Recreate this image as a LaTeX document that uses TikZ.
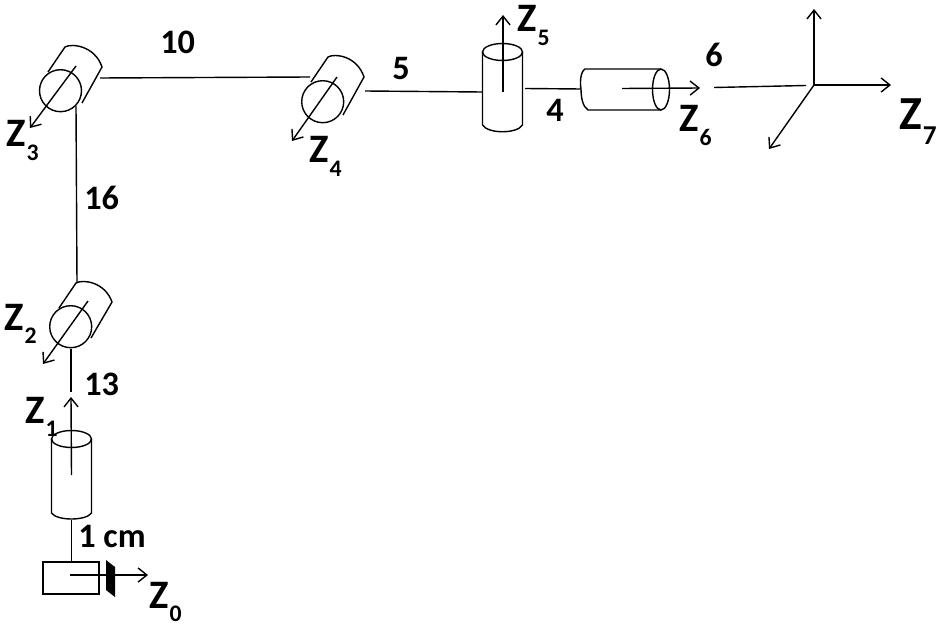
\documentclass[tikz,border=0pt]{standalone}
\usepackage{fontspec}
\setmainfont{Carlito}
\usepackage{tikz}
\usetikzlibrary{arrows.meta,shapes.geometric}
\tikzstyle{link} = [line width=0.8pt]
\tikzstyle{axis} = [line width=0.8pt, -{Straight Barb[length=5pt,width=8pt,line width=0.8pt]}]
\tikzstyle{disc} = [draw, circle, line width=0.8pt, inner sep=0, minimum size=0.84cm]
\tikzstyle{endcap} = [draw, ellipse, line width=0.8pt, inner sep=0, outer sep=0, minimum width=0.8cm, minimum height=0.34cm]
\tikzstyle{sidecap} = [draw, ellipse, line width=0.8pt, inner sep=0, outer sep=0, minimum width=0.34cm, minimum height=0.82cm]
\tikzstyle{dim} = [anchor=base west, inner sep=0, font=\fontsize{19.5}{21}\selectfont\bfseries]
\tikzstyle{zname} = [anchor=base west, inner sep=0, font=\fontsize{23}{25}\selectfont\bfseries]
\tikzstyle{znamebig} = [anchor=base west, inner sep=0, font=\fontsize{27}{29}\selectfont\bfseries]
\newcommand{\zsub}[1]{\kern0.5pt\raisebox{-7.5pt}{\fontsize{13.5}{14}\selectfont #1}}
\newcommand{\zsubbig}[1]{\kern0.5pt\raisebox{-8.5pt}{\fontsize{15.5}{16}\selectfont #1}}

\begin{document}
\begin{tikzpicture}[x=0.02cm,y=-0.02cm]
	  \useasboundingbox (0,0) rectangle (942,628);

	  % base
	  \node (box) at (71,578) [draw, line width=0.8pt, inner sep=0, minimum width=1.12cm, minimum height=0.64cm] {};
	  \coordinate (a0) at (70,575);
	  \coordinate (b0) at (148,575);
	  \fill (106,560) -- (115,567) -- (115,597) -- (106,590) -- cycle;
	  \draw [axis] (a0) to (b0);

	  % joint 1
	  \node (cap1) at (71.5,439) [endcap] {};
	  \coordinate (a1) at (71.5,475);
	  \coordinate (b1) at (71,397);
	  \coordinate (foot1) at (71.5,519.5);
	  \draw [link] (cap1.west) -- (51.5,513) .. controls (57,521) and (86,521) .. (91.5,513) -- (cap1.east);
	  \draw [axis] (a1) to (b1);
	  \draw [link] (foot1) to (box.north -| foot1);

	  % joint 2
	  \node (disc2) at (70.7,326.7) [disc] {};
	  \coordinate (a2) at (88,301);
	  \coordinate (b2) at (43,364);
	  \coordinate (top2) at (77,283);
	  \coordinate (foot2) at (71,349);
	  \coordinate (head1) at (71,392);
	  \draw [link] (59,308) -- (76,283) .. controls (83,279) and (105,282) .. (112,302) -- (91,338);
	  \draw [axis] (a2) to (b2);
	  \draw [link] (foot2) to (head1);

	  % joint 3
	  \node (disc3) at (60.5,90.7) [disc] {};
	  \coordinate (a3) at (76,66);
	  \coordinate (b3) at (30,128);
	  \coordinate (foot3) at (76,106);
	  \coordinate (side3) at (100,78);
	  \draw [link] (48,72) -- (65,47) .. controls (72,43) and (95,46) .. (102,67) -- (82,103);
	  \draw [axis] (a3) to (b3);
	  \draw [link] (foot3) to (top2);

	  % joint 4
	  \node (disc4) at (322.7,101.7) [disc] {};
	  \coordinate (a4) at (337,77);
	  \coordinate (b4) at (292,141);
	  \coordinate (left4) at (310,77);
	  \coordinate (right4) at (365,91);
	  \draw [link] (311,82) -- (328,57) .. controls (335,53) and (357,56) .. (364,77) -- (343,115);
	  \draw [axis] (a4) to (b4);
	  \draw [link] (side3) to (left4);

	  % joint 5
	  \node (cap5) at (502.5,52) [endcap] {};
	  \coordinate (a5) at (503,92);
	  \coordinate (b5) at (503,15);
	  \coordinate (left5) at (482,92);
	  \coordinate (right5) at (525,88.5);
	  \draw [link] (cap5.west) -- (482.5,125) .. controls (488,134) and (517,134) .. (522.5,125) -- (cap5.east);
	  \draw [axis] (a5) to (b5);
	  \draw [link] (right4) to (left5);

	  % joint 6
	  \node (cap6) at (661,89.5) [sidecap] {};
	  \coordinate (a6) at (622,88.5);
	  \coordinate (b6) at (700,88);
	  \coordinate (left6) at (581,89);
	  \draw [link] (cap6.north) -- (585,69) .. controls (580,72) and (580,84) .. (581,89) .. controls (581,98) and (583,107) .. (588,110) -- (cap6.south);
	  \draw [axis] (a6) to (b6);
	  \draw [link] (right5) to (left6);

	  % end frame
	  \coordinate (o) at (814,85);
	  \coordinate (up7) at (814,9);
	  \coordinate (right7) at (891,85);
	  \coordinate (down7) at (769,149);
	  \coordinate (start7) at (714,87.5);
	  \coordinate (end7) at (806,85.5);
	  \draw [axis] (o) to (up7);
	  \draw [axis] (o) to (right7);
	  \draw [axis] (o) to (down7);
	  \draw [link] (start7) to (end7);

	  % lengths
	  \node (l10) at (160,54) [dim] {10};
	  \node (l16) at (84,210) [dim] {16};
	  \node (l13) at (84,395) [dim] {13};
	  \node (l1) at (78,547) [dim] {1 cm};
	  \node (l5) at (392,80) [dim] {5};
	  \node (l4) at (546,122) [dim] {4};
	  \node (l6) at (705,67) [dim] {6};

	  % axis names
	  \node (z0) at (149,608) [zname] {Z\zsub{0}};
	  \node (z1) at (25,423) [zname] {Z\zsub{1}};
	  \node (z2) at (4,330) [zname] {Z\zsub{2}};
	  \node (z3) at (6,147) [zname] {Z\zsub{3}};
	  \node (z4) at (309,163) [zname] {Z\zsub{4}};
	  \node (z5) at (517,32) [zname] {Z\zsub{5}};
	  \node (z6) at (679,132) [zname] {Z\zsub{6}};
	  \node (z7) at (899,130) [znamebig] {Z\zsubbig{7}};
\end{tikzpicture}
\end{document}
